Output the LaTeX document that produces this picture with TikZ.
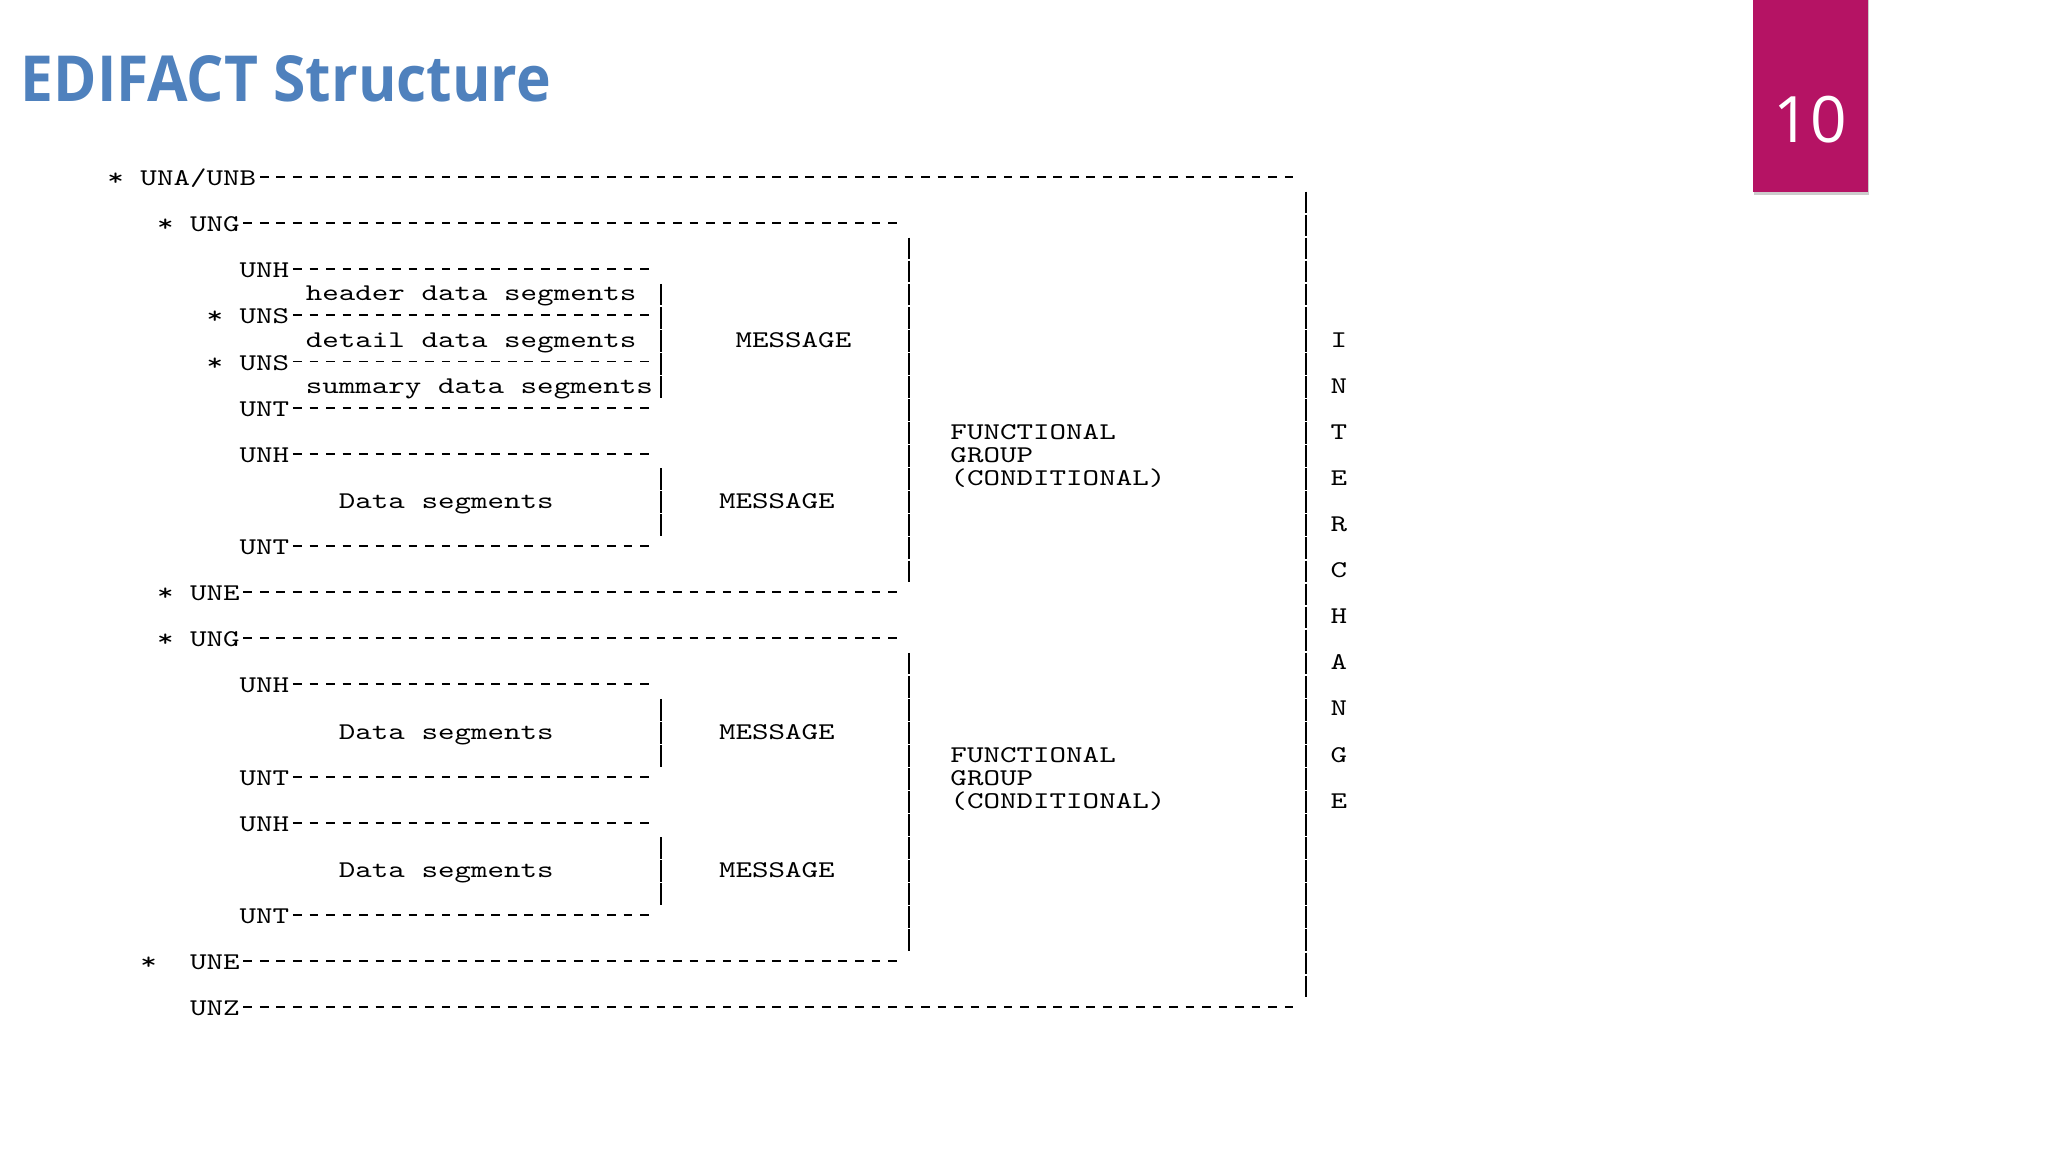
\documentclass[tikz,border=0pt]{standalone}
\usepackage{fontspec}
\usepackage{graphicx}
\newfontfamily\titlefont{Open Sans}
\newfontfamily\cour{lmmono10-regular.otf}[FakeStretch=1.312]
\definecolor{titleblue}{RGB}{79,129,189}
\definecolor{pagemag}{RGB}{181,19,100}
\tikzset{
  txt/.style={font={\cour\fontsize{24}{24}\selectfont}, inner sep=0pt, anchor=base west, yshift=-8.6pt},
  dline/.style={line width=1.9pt, dash pattern=on 8.7pt off 7.83pt},
  vbar/.style={line width=1.9pt, dash pattern=on 21.7pt off 1.36pt},
}
\newcommand\dashrow[3]{\draw[dline] ({#1-0.263},{#3}) -- ({#2+0.263},{#3});}
\newcommand\vbarr[3]{\draw[vbar] ({#1},{#2-0.369}) -- ({#1},{#3+0.572});}
\begin{document}
\begin{tikzpicture}[x=1pt,y=-1pt]
\useasboundingbox (0,0) rectangle (2048,1152);
\fill[white] (0,0) rectangle (2048,1152);
% title
\node[anchor=base west, inner sep=0pt, text=titleblue, font={\titlefont\bfseries\fontsize{63.5}{68}\selectfont}] (title) at (20.5,101.9) {\scalebox{0.925}[1]{EDIFACT Structure}};
% page number
\fill[gray!40] (1754,0) rectangle (1869,194.5);
\fill[pagemag] (1752.8,0) rectangle (1867.7,192);
\node[text=white, inner sep=0pt, font={\titlefont\fontsize{64}{66}\selectfont}] (pnum) at (1810,119.5) {10};
% ASCII diagram
\begin{scope}[x=16.53pt, y=-23.06pt, shift={(115.5pt,-177pt)}]
% row 0
\node[txt] (st0) at (-0.5,0) {*};
\node[txt] (una) at (1.5,0) {UNA/UNB};
\dashrow{9}{71}{0}
% row 2
\node[txt] (st1) at (2.5,2) {*};
\node[txt] (ung1) at (4.5,2) {UNG};
\dashrow{8}{47}{2}
% message 1
\node[txt] (unh1) at (7.5,4) {UNH};
\dashrow{11}{32}{4}
\node[txt] (hds) at (11.5,5) {header data segments};
\node[txt] (st2) at (5.5,6) {*};
\node[txt] (uns1) at (7.5,6) {UNS};
\dashrow{11}{32}{6}
\node[txt] (dds) at (11.5,7) {detail data segments};
\node[txt] (st3) at (5.5,8) {*};
\node[txt] (uns2) at (7.5,8) {UNS};
\dashrow{11}{32}{8}
\node[txt] (sds) at (11.5,9) {summary data segments};
\node[txt] (unt1) at (7.5,10) {UNT};
\dashrow{11}{32}{10}
\node[txt] (msg1) at (37.5,7) {MESSAGE};
\vbarr{33}{5}{9}
% message 2
\node[txt] (unh2) at (7.5,12) {UNH};
\dashrow{11}{32}{12}
\node[txt] (ds1) at (13.5,14) {Data segments};
\node[txt] (unt2) at (7.5,16) {UNT};
\dashrow{11}{32}{16}
\node[txt] (msg2) at (36.5,14) {MESSAGE};
\vbarr{33}{13}{15}
% group 1
\node[txt] (fg1a) at (50.5,11) {FUNCTIONAL};
\node[txt] (fg1b) at (50.5,12) {GROUP};
\node[txt] (fg1c) at (50.5,13) {(CONDITIONAL)};
\vbarr{48}{3}{17}
\node[txt] (st4) at (2.5,18) {*};
\node[txt] (une1) at (4.5,18) {UNE};
\dashrow{8}{47}{18}
% group 2
\node[txt] (st5) at (2.5,20) {*};
\node[txt] (ung2) at (4.5,20) {UNG};
\dashrow{8}{47}{20}
\node[txt] (unh3) at (7.5,22) {UNH};
\dashrow{11}{32}{22}
\node[txt] (ds2) at (13.5,24) {Data segments};
\node[txt] (unt3) at (7.5,26) {UNT};
\dashrow{11}{32}{26}
\node[txt] (msg3) at (36.5,24) {MESSAGE};
\vbarr{33}{23}{25}
\node[txt] (unh4) at (7.5,28) {UNH};
\dashrow{11}{32}{28}
\node[txt] (ds3) at (13.5,30) {Data segments};
\node[txt] (unt4) at (7.5,32) {UNT};
\dashrow{11}{32}{32}
\node[txt] (msg4) at (36.5,30) {MESSAGE};
\vbarr{33}{29}{31}
\node[txt] (fg2a) at (50.5,25) {FUNCTIONAL};
\node[txt] (fg2b) at (50.5,26) {GROUP};
\node[txt] (fg2c) at (50.5,27) {(CONDITIONAL)};
\vbarr{48}{21}{33}
\node[txt] (st6) at (1.5,34) {*};
\node[txt] (une2) at (4.5,34) {UNE};
\dashrow{8}{47}{34}
% interchange
\node[txt] (unz) at (4.5,36) {UNZ};
\dashrow{8}{71}{36}
\vbarr{72}{1}{35}
\node[txt] (ic1) at (73.5,7) {I};
\node[txt] (ic2) at (73.5,9) {N};
\node[txt] (ic3) at (73.5,11) {T};
\node[txt] (ic4) at (73.5,13) {E};
\node[txt] (ic5) at (73.5,15) {R};
\node[txt] (ic6) at (73.5,17) {C};
\node[txt] (ic7) at (73.5,19) {H};
\node[txt] (ic8) at (73.5,21) {A};
\node[txt] (ic9) at (73.5,23) {N};
\node[txt] (ic10) at (73.5,25) {G};
\node[txt] (ic11) at (73.5,27) {E};
\end{scope}
\end{tikzpicture}
\end{document}
